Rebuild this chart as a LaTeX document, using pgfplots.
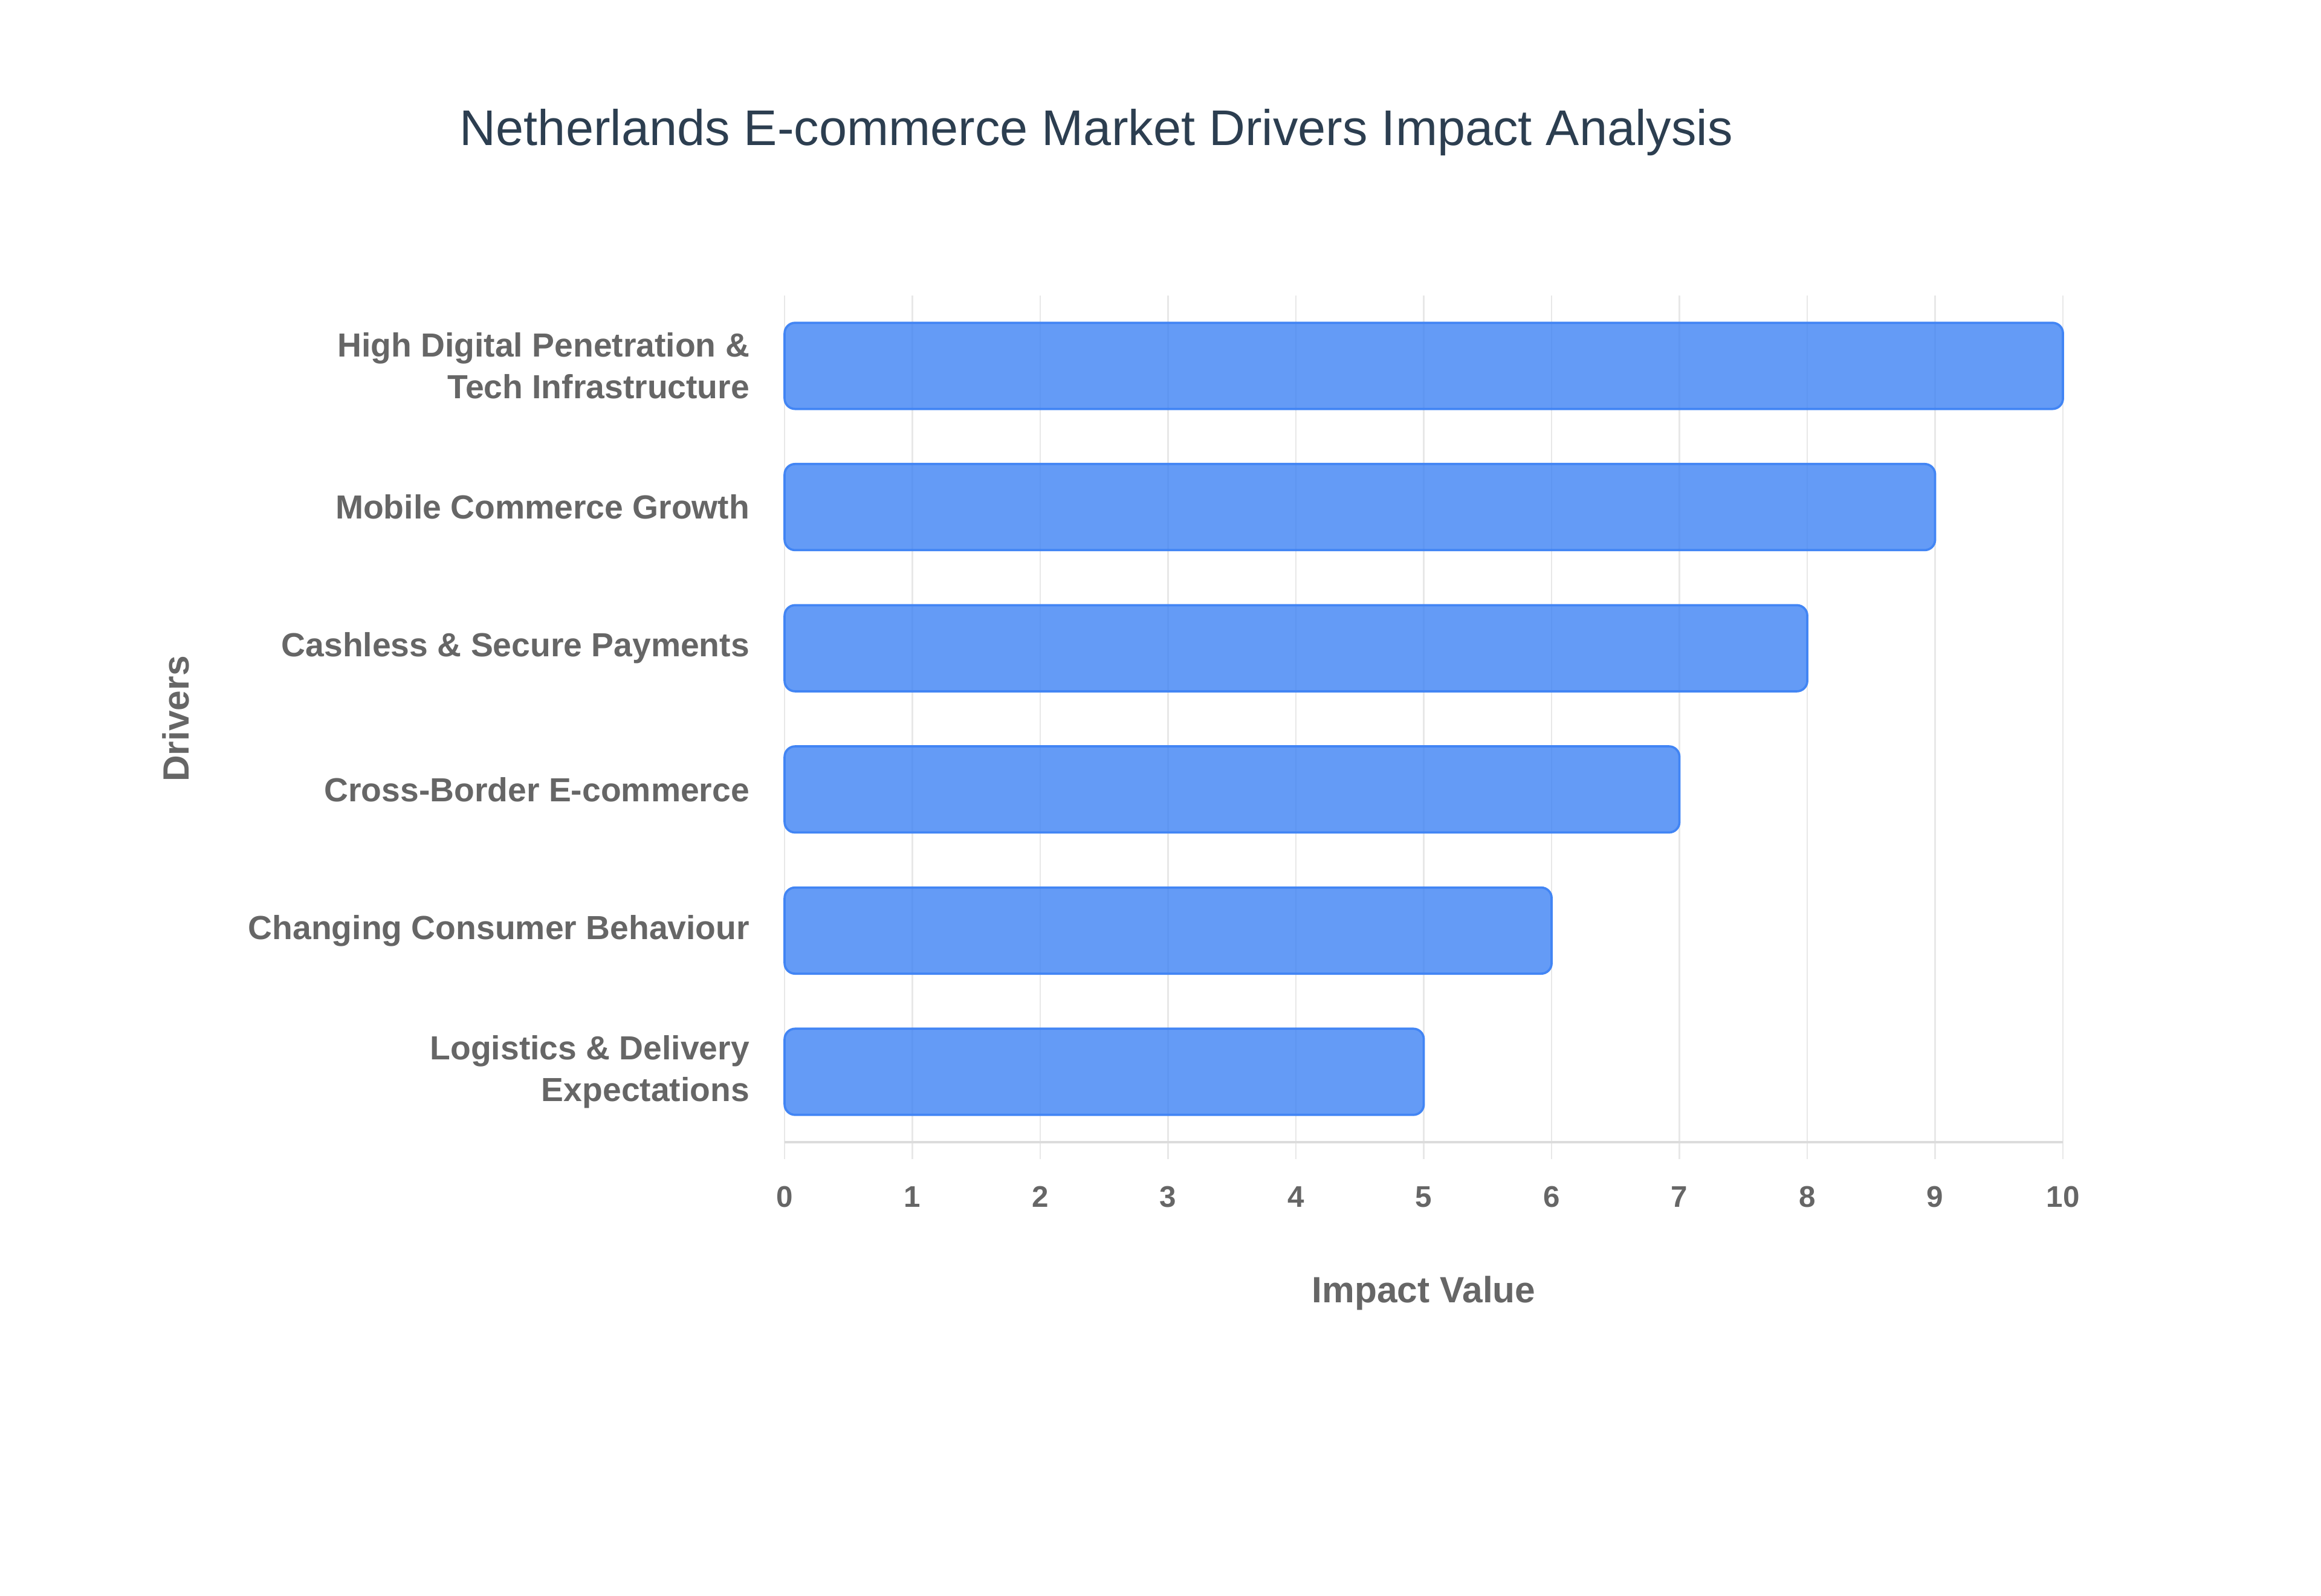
\documentclass[border=0pt]{standalone}
\usepackage{pgfplots}
\pgfplotsset{compat=1.18}
\usepackage{fontspec}
\setmainfont{Liberation Sans}
\definecolor{barblue}{RGB}{66,133,244}
\definecolor{gridgray}{RGB}{232,232,232}
\definecolor{axisgray}{RGB}{220,220,220}
\definecolor{tickgray}{RGB}{102,102,102}
\definecolor{titlecol}{RGB}{44,62,80}
\begin{document}
\begin{tikzpicture}[x=1pt,y=1pt]
\path[use as bounding box] (0,0) rectangle (1556,1070);
\node[anchor=base, text=titlecol, font=\fontsize{33.6}{40}\selectfont, inner sep=0pt] at (735,972.5) {Netherlands E-commerce Market Drivers Impact Analysis};
\begin{axis}[
  at={(526pt,304pt)}, anchor=south west,
  scale only axis, width=857pt, height=568pt,
  xmin=0, xmax=10, ymin=-0.5, ymax=5.5,
  xtick={0,1,...,10},
  ytick={0,1,2,3,4,5},
  yticklabels={{Logistics \& Delivery\\Expectations},{Changing Consumer Behaviour},{Cross-Border E-commerce},{Cashless \& Secure Payments},{Mobile Commerce Growth},{High Digital Penetration \&\\Tech Infrastructure}},
  axis x line*=bottom, axis y line*=left,
  x axis line style={draw=axisgray, line width=1.6pt},
  y axis line style={draw=none},
  xmajorgrids, grid style={draw=gridgray, line width=1pt},
  tick align=outside,
  xtick style={draw=gridgray, line width=1pt},
  ytick style={draw=none},
  major tick length=11pt,
  /pgf/number format/assume math mode=true,
  xticklabel style={font=\fontsize{20}{24}\selectfont\bfseries, text=tickgray, yshift=-15pt},
  yticklabel style={font=\fontsize{22.4}{28}\selectfont\bfseries, text=tickgray, align=right, xshift=-9pt},
  xlabel={Impact Value}, ylabel={Drivers},
  xlabel style={font=\fontsize{24.5}{28}\selectfont\bfseries, text=tickgray, at={(axis description cs:0.5,-0.178)}, anchor=center},
  ylabel style={font=\fontsize{24.5}{28}\selectfont\bfseries, text=tickgray, at={(axis description cs:-0.476,0.5)}, anchor=center, rotate=0},
  clip=false,
]
\addplot[xbar, bar width=0.61, fill=barblue, fill opacity=0.82, draw=barblue, line width=1.5pt, rounded corners=7pt]
  coordinates {(5,0) (6,1) (7,2) (8,3) (9,4) (10,5)};
\end{axis}
\end{tikzpicture}
\end{document}
